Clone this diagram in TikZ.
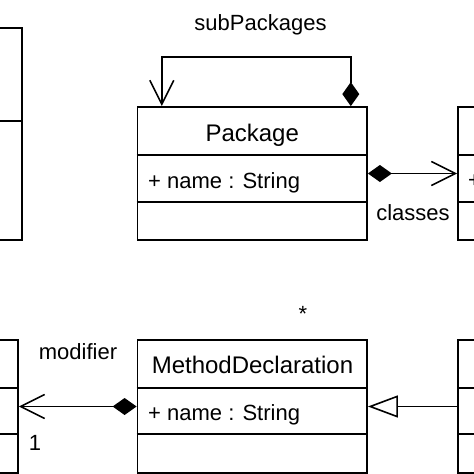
\documentclass[tikz,border=0pt]{standalone}
\usepackage{fontspec}
\setmainfont{Liberation Sans}
\usetikzlibrary{arrows.meta,calc}
\begin{document}
\begin{tikzpicture}[x=1pt,y=-1pt,
  box/.style={draw,line width=1.8pt,inner sep=0pt,minimum height=133pt},
  divider/.style={line width=1.8pt},
  txt/.style={font=\fontsize{22}{26}\selectfont,inner sep=0pt},
  title/.style={font=\fontsize{24}{28}\selectfont,inner sep=0pt},
  conn/.style={line width=1.6pt},
  diam/.tip={Diamond[length=24pt,width=17pt]},
  barb/.tip={Straight Barb[length=24pt,width=24pt]},
  tri/.tip={Triangle[open,length=30pt,width=22pt]}]
\useasboundingbox (0,0) rectangle (474,474);
\clip (0,0) rectangle (474,474);
% boxes
\node[box,minimum width=230pt,minimum height=212pt] (tl) at (-93,134) {};
\node[box,minimum width=229.5pt] (pkg) at (252.25,173.5) {};
\node[box,minimum width=230pt] (cls) at (573,173.5) {};
\node[box,minimum width=230pt] (bl) at (-97,406.5) {};
\node[box,minimum width=229.5pt] (md) at (252.25,406.5) {};
\node[box,minimum width=230pt] (br) at (573,406.5) {};
% dividers
\draw[divider] (tl.west |- 0,121) -- (tl.east |- 0,121);
\foreach \b in {pkg,cls}{
  \draw[divider] (\b.west |- 0,155) -- (\b.east |- 0,155);
  \draw[divider] (\b.west |- 0,202) -- (\b.east |- 0,202);
}
\foreach \b in {bl,md,br}{
  \draw[divider] (\b.west |- 0,388) -- (\b.east |- 0,388);
  \draw[divider] (\b.west |- 0,434) -- (\b.east |- 0,434);
}
% texts in boxes
\node[title,anchor=base] (pkgname) at (252.25,141) {Package};
\node[txt,anchor=base west] (pkgattr) at (148,188) {+ name : String};
\node[txt,anchor=base west] (clsattr) at (468,187) {+};
\node[title,anchor=base] (mdname) at (252.5,373) {MethodDeclaration};
\node[txt,anchor=base west] (mdattr) at (148,420) {+ name : String};
% connectors
\draw[conn,{diam}-{barb}] ($(pkg.north west)+(214.2,0)$) -- ++(0,-49) -| ($(pkg.north west)+(25.2,0)$);
\draw[conn,{diam}-{barb}] (pkg.east) -- (cls.west);
\draw[conn,{diam}-{barb}] (md.west) -- (bl.east);
\draw[conn,-{tri}] (br.west) -- (md.east);
% labels
\node[txt,anchor=base] (lsub) at (260.5,30) {subPackages};
\node[txt,anchor=base] (lcls) at (413,220) {classes};
\node[txt,anchor=base] (lmod) at (78,359) {modifier};
\node[txt,anchor=base] (lone) at (35,450.5) {1};
\node[txt,anchor=base] (lstar) at (303,321) {*};
\end{tikzpicture}
\end{document}
